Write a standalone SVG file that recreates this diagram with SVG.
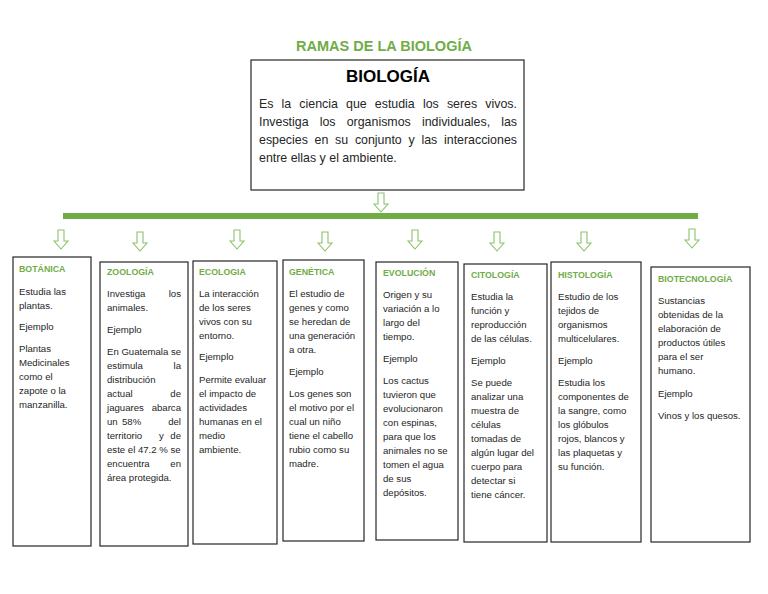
<svg xmlns="http://www.w3.org/2000/svg" xmlns:xlink="http://www.w3.org/1999/xlink" width="768" height="594" viewBox="0 0 768 594">
<style>
.title{font:bold 14.5px "Liberation Sans",Arial,sans-serif;fill:#70AD47}
.big{font:bold 17px "Liberation Sans",Arial,sans-serif;fill:#000}
.mt{font:12.4px "Liberation Sans",Arial,sans-serif;fill:#262626}
.h{font:bold 8.8px "Liberation Sans",Arial,sans-serif;fill:#70AD47}
.t{font:9.6px "Liberation Sans",Arial,sans-serif;fill:#262626}
.box{fill:#fff;stroke:#262626;stroke-width:1.2}
.arr{fill:#fff;stroke:#8CC26A;stroke-width:1.1}
.e{text-anchor:end}
</style>
<defs>
<path id="dn" class="arr" d="M-3,0 H3 V11 H7 L0,19 L-7,11 H-3 Z"/>
</defs>
<rect width="768" height="594" fill="#fff"/>
<text class="title" x="384" y="51" text-anchor="middle">RAMAS DE LA BIOLOGÍA</text>

<g id="biologia">
<rect class="box" x="251" y="60" width="273" height="130"/>
<text class="big" x="388" y="82" text-anchor="middle">BIOLOGÍA</text>
<text class="mt" y="108"><tspan x="259">Es</tspan><tspan x="281.6">la</tspan><tspan x="299.3">ciencia</tspan><tspan x="346">que</tspan><tspan x="374.8">estudia</tspan><tspan x="422.9">los</tspan><tspan x="446.9">seres</tspan></text>
<text class="mt e" x="517" y="108">vivos.</text>
<text class="mt" y="126"><tspan x="259">Investiga</tspan><tspan x="319.7">los</tspan><tspan x="346.7">organismos</tspan><tspan x="421.9">individuales,</tspan></text>
<text class="mt e" x="517" y="126">las</text>
<text class="mt" y="144"><tspan x="259">especies</tspan><tspan x="314.6">en</tspan><tspan x="335.1">su</tspan><tspan x="354.9">conjunto</tspan><tspan x="408.5">y</tspan><tspan x="421.4">las</tspan></text>
<text class="mt e" x="517" y="144">interacciones</text>
<text class="mt" x="259" y="162">entre ellas y el ambiente.</text>
</g>

<g id="connectors">
<use xlink:href="#dn" x="381" y="193"/>
<rect x="63" y="213" width="635" height="6" fill="#70AD47"/>
<use xlink:href="#dn" x="61" y="230"/>
<use xlink:href="#dn" x="140" y="232"/>
<use xlink:href="#dn" x="237" y="230"/>
<use xlink:href="#dn" x="325" y="232"/>
<use xlink:href="#dn" x="415" y="230"/>
<use xlink:href="#dn" x="497" y="232"/>
<use xlink:href="#dn" x="584" y="232"/>
<use xlink:href="#dn" x="692" y="229"/>
</g>

<g id="botanica">
<rect class="box" x="13" y="257" width="78" height="289"/>
<text class="h" x="19" y="272">BOTÁNICA</text>
<text class="t" x="19" y="295">Estudia las</text>
<text class="t" x="19" y="309">plantas.</text>
<text class="t" x="19" y="330">Ejemplo</text>
<text class="t" x="19" y="352">Plantas</text>
<text class="t" x="19" y="366">Medicinales</text>
<text class="t" x="19" y="380">como el</text>
<text class="t" x="19" y="394">zapote o la</text>
<text class="t" x="19" y="408">manzanilla.</text>
</g>

<g id="zoologia">
<rect class="box" x="100" y="262" width="88" height="284"/>
<text class="h" x="107" y="275">ZOOLOGÍA</text>
<text class="t" x="107" y="297">Investiga</text><text class="t e" x="181" y="297">los</text>
<text class="t" x="107" y="311">animales.</text>
<text class="t" x="107" y="333">Ejemplo</text>
<text class="t" x="107" y="355">En Guatemala se</text>
<text class="t" x="107" y="369">estimula</text><text class="t e" x="181" y="369">la</text>
<text class="t" x="107" y="383">distribución</text>
<text class="t" x="107" y="397">actual</text><text class="t e" x="181" y="397">de</text>
<text class="t" x="107" y="411">jaguares</text><text class="t e" x="181" y="411">abarca</text>
<text class="t" x="107" y="425">un</text><text class="t" x="122" y="425">58%</text><text class="t e" x="181" y="425">del</text>
<text class="t" x="107" y="439">territorio</text><text class="t" x="159" y="439">y</text><text class="t e" x="181" y="439">de</text>
<text class="t" x="107" y="453">este el 47.2 % se</text>
<text class="t" x="107" y="467">encuentra</text><text class="t e" x="181" y="467">en</text>
<text class="t" x="107" y="481">área protegida.</text>
</g>

<g id="ecologia">
<rect class="box" x="193" y="261" width="84" height="283"/>
<text class="h" x="199" y="275">ECOLOGIA</text>
<text class="t" x="199" y="297">La interacción</text>
<text class="t" x="199" y="311">de los seres</text>
<text class="t" x="199" y="325">vivos con su</text>
<text class="t" x="199" y="339">entorno.</text>
<text class="t" x="199" y="360">Ejemplo</text>
<text class="t" x="199" y="383">Permite evaluar</text>
<text class="t" x="199" y="397">el impacto de</text>
<text class="t" x="199" y="411">actividades</text>
<text class="t" x="199" y="425">humanas en el</text>
<text class="t" x="199" y="439">medio</text>
<text class="t" x="199" y="453">ambiente.</text>
</g>

<g id="genetica">
<rect class="box" x="283" y="260" width="81" height="281"/>
<text class="h" x="289" y="275">GENÉTICA</text>
<text class="t" x="289" y="297">El estudio de</text>
<text class="t" x="289" y="311">genes y como</text>
<text class="t" x="289" y="325">se heredan de</text>
<text class="t" x="289" y="339">una generación</text>
<text class="t" x="289" y="353">a otra.</text>
<text class="t" x="289" y="375">Ejemplo</text>
<text class="t" x="289" y="397">Los genes son</text>
<text class="t" x="289" y="411">el motivo por el</text>
<text class="t" x="289" y="425">cual un niño</text>
<text class="t" x="289" y="439">tiene el cabello</text>
<text class="t" x="289" y="453">rubio como su</text>
<text class="t" x="289" y="467">madre.</text>
</g>

<g id="evolucion">
<rect class="box" x="376" y="262" width="82" height="278"/>
<text class="h" x="383" y="276">EVOLUCIÓN</text>
<text class="t" x="383" y="298">Origen y su</text>
<text class="t" x="383" y="312">variación a lo</text>
<text class="t" x="383" y="326">largo del</text>
<text class="t" x="383" y="340">tiempo.</text>
<text class="t" x="383" y="362">Ejemplo</text>
<text class="t" x="383" y="384">Los cactus</text>
<text class="t" x="383" y="398">tuvieron que</text>
<text class="t" x="383" y="412">evolucionaron</text>
<text class="t" x="383" y="426">con espinas,</text>
<text class="t" x="383" y="440">para que los</text>
<text class="t" x="383" y="454">animales no se</text>
<text class="t" x="383" y="468">tomen el agua</text>
<text class="t" x="383" y="482">de sus</text>
<text class="t" x="383" y="496">depósitos.</text>
</g>

<g id="citologia">
<rect class="box" x="464" y="264" width="83" height="278"/>
<text class="h" x="471" y="278">CITOLOGÍA</text>
<text class="t" x="471" y="300">Estudia la</text>
<text class="t" x="471" y="314">función y</text>
<text class="t" x="471" y="328">reproducción</text>
<text class="t" x="471" y="342">de las células.</text>
<text class="t" x="471" y="364">Ejemplo</text>
<text class="t" x="471" y="386">Se puede</text>
<text class="t" x="471" y="400">analizar una</text>
<text class="t" x="471" y="414">muestra de</text>
<text class="t" x="471" y="428">células</text>
<text class="t" x="471" y="442">tomadas de</text>
<text class="t" x="471" y="456">algún lugar del</text>
<text class="t" x="471" y="470">cuerpo para</text>
<text class="t" x="471" y="484">detectar si</text>
<text class="t" x="471" y="498">tiene cáncer.</text>
</g>

<g id="histologia">
<rect class="box" x="551" y="262" width="90" height="280"/>
<text class="h" x="558" y="278">HISTOLOGÍA</text>
<text class="t" x="558" y="300">Estudio de los</text>
<text class="t" x="558" y="314">tejidos de</text>
<text class="t" x="558" y="328">organismos</text>
<text class="t" x="558" y="342">multicelulares.</text>
<text class="t" x="558" y="364">Ejemplo</text>
<text class="t" x="558" y="386">Estudia los</text>
<text class="t" x="558" y="400">componentes de</text>
<text class="t" x="558" y="414">la sangre, como</text>
<text class="t" x="558" y="428">los glóbulos</text>
<text class="t" x="558" y="442">rojos, blancos y</text>
<text class="t" x="558" y="456">las plaquetas y</text>
<text class="t" x="558" y="470">su función.</text>
</g>

<g id="biotecnologia">
<rect class="box" x="651" y="267" width="99" height="275"/>
<text class="h" x="658" y="282">BIOTECNOLOGÍA</text>
<text class="t" x="658" y="304">Sustancias</text>
<text class="t" x="658" y="318">obtenidas de la</text>
<text class="t" x="658" y="332">elaboración de</text>
<text class="t" x="658" y="346">productos útiles</text>
<text class="t" x="658" y="360">para el ser</text>
<text class="t" x="658" y="374">humano.</text>
<text class="t" x="658" y="397">Ejemplo</text>
<text class="t" x="658" y="419">Vinos y los quesos.</text>
</g>
</svg>
